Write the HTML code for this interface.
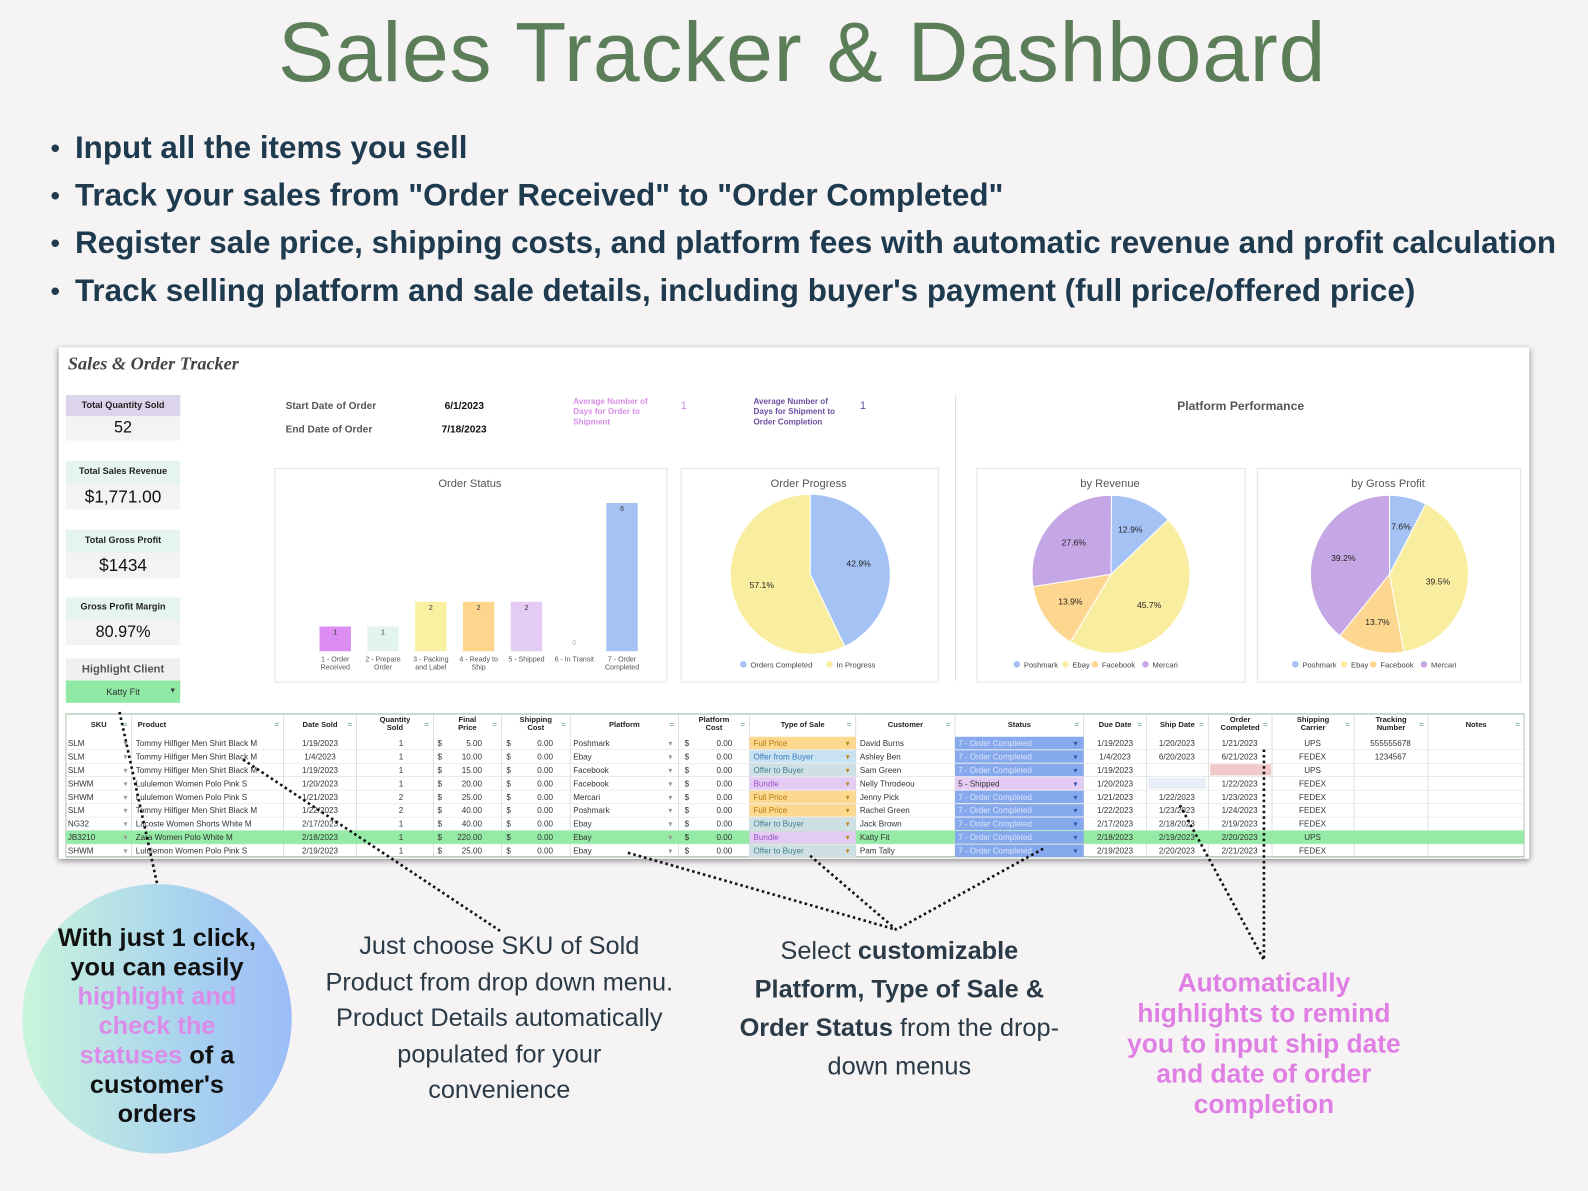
<!DOCTYPE html>
<html><head><meta charset="utf-8">
<style>
html,body{margin:0;padding:0;background:#f5f3f4;overflow:hidden}
#w{position:absolute;left:0;top:0;width:1568px;height:1176px;transform:scale(1.01276);transform-origin:0 0;font-family:"Liberation Sans",Arial,sans-serif;background:#f5f3f4}
.a{position:absolute}
.title{left:0;width:1584px;top:4px;text-align:center;font-size:83px;color:#5b7d58;letter-spacing:0.8px}
.bul{left:50px;font-size:31px;font-weight:bold;color:#1e3a4e;white-space:nowrap}
.bul:before{content:"•";position:absolute;left:0;font-size:26px;top:3px}
.bul span{margin-left:24px}
#panel{left:58px;top:343px;width:1452px;height:505px;background:#fff;box-shadow:0 2px 6px rgba(0,0,0,.45)}
.hdr{font-size:9px;font-weight:bold;text-align:center;color:#222}
.val{text-align:center;color:#111;background:#f3f3f3}
.box{border:1px solid #e4e4e4;background:#fff}
.ct{font-size:11px;color:#555;text-align:center}
.tx{font-size:25px;color:#2b3a47;text-align:center;line-height:35.5px}
</style></head><body><div id="w">
<div class="a title">Sales Tracker &amp; Dashboard</div>
<div class="a bul" style="top:128px"><span>Input all the items you sell</span></div>
<div class="a bul" style="top:175px"><span>Track your sales from "Order Received" to "Order Completed"</span></div>
<div class="a bul" style="top:222px"><span>Register sale price, shipping costs, and platform fees with automatic revenue and profit calculation</span></div>
<div class="a bul" style="top:269px"><span>Track selling platform and sale details, including buyer's payment (full price/offered price)</span></div>

<div class="a" id="panel"></div>
<div class="a" style="left:67px;top:349px;font-family:'Liberation Serif',serif;font-style:italic;font-weight:bold;font-size:18px;color:#444">Sales &amp; Order Tracker</div>

<div class="a hdr" style="left:65px;top:390px;width:113px;height:21px;line-height:21px;background:#dcd4ea">Total Quantity Sold</div>
<div class="a val" style="left:65px;top:411px;width:113px;height:24px;line-height:24px;font-size:16px">52</div>
<div class="a hdr" style="left:65px;top:455px;width:113px;height:23px;line-height:20px;background:#e5f4ef">Total Sales Revenue</div>
<div class="a val" style="left:65px;top:478px;width:113px;height:25px;line-height:25px;font-size:17px">$1,771.00</div>
<div class="a hdr" style="left:65px;top:523px;width:113px;height:23px;line-height:20px;background:#e5f4ef">Total Gross Profit</div>
<div class="a val" style="left:65px;top:546px;width:113px;height:25px;line-height:25px;font-size:17px">$1434</div>
<div class="a hdr" style="left:65px;top:590px;width:113px;height:22px;line-height:18px;background:#e5f4ef">Gross Profit Margin</div>
<div class="a val" style="left:65px;top:612px;width:113px;height:25px;line-height:25px;font-size:16px">80.97%</div>
<div class="a" style="left:65px;top:650px;width:113px;height:22px;line-height:22px;background:#f0f0f0;font-size:11px;font-weight:bold;color:#555;text-align:center">Highlight Client</div>
<div class="a" style="left:65px;top:672px;width:113px;height:22px;line-height:22px;background:#8fe8a4;font-size:9px;color:#333;text-align:center">Katty Fit <span style="position:absolute;right:4px;font-size:7px">▼</span></div>

<div class="a" style="left:282px;top:396px;font-size:10px;font-weight:bold;color:#555">Start Date of Order</div>
<div class="a" style="left:282px;top:419px;font-size:10px;font-weight:bold;color:#555">End Date of Order</div>
<div class="a" style="left:439px;top:396px;font-size:10px;font-weight:bold;color:#111">6/1/2023</div>
<div class="a" style="left:436px;top:419px;font-size:10px;font-weight:bold;color:#111">7/18/2023</div>
<div class="a" style="left:566px;top:392px;font-size:8px;font-weight:bold;color:#d88de6;line-height:10px">Average Number of<br>Days for Order to<br>Shipment</div>
<div class="a" style="left:672px;top:395px;font-size:11px;color:#c58ee6">1</div>
<div class="a" style="left:744px;top:392px;font-size:8px;font-weight:bold;color:#6a4ea0;line-height:10px">Average Number of<br>Days for Shipment to<br>Order Completion</div>
<div class="a" style="left:849px;top:395px;font-size:11px;color:#6a4ea0">1</div>
<div class="a" style="left:943px;top:390px;width:1px;height:282px;background:#ddd"></div>
<div class="a" style="left:1100px;top:394px;width:250px;text-align:center;font-size:12px;font-weight:bold;color:#555">Platform Performance</div>

<div class="a box" style="left:271px;top:462px;width:386px;height:210px"></div>
<div class="a ct" style="left:271px;top:472px;width:386px">Order Status</div>
<div class="a box" style="left:672px;top:462px;width:253px;height:210px"></div>
<div class="a ct" style="left:672px;top:472px;width:253px">Order Progress</div>
<div class="a box" style="left:964px;top:462px;width:264px;height:210px"></div>
<div class="a ct" style="left:964px;top:472px;width:264px">by Revenue</div>
<div class="a box" style="left:1241px;top:462px;width:259px;height:210px"></div>
<div class="a ct" style="left:1241px;top:472px;width:259px">by Gross Profit</div>

<svg class="a" id="svg" style="left:0;top:0" width="1568" height="1176" viewBox="0 0 1568 1176"></svg>

<div class="a" style="left:22px;top:873px;width:266px;height:266px;border-radius:50%;background:linear-gradient(90deg,#c9f5dc,#a9d3ee 60%,#9cbdf8)"></div>
<div class="a" style="left:22px;top:912px;width:266px;text-align:center;font-size:25px;font-weight:bold;line-height:29px;color:#111">With just 1 click,<br>you can easily<br><span style="color:#dc8be8">highlight and<br>check the<br>statuses</span> of a<br>customer's<br>orders</div>
<div class="a tx" style="left:293px;top:917px;width:400px">Just choose SKU of Sold<br>Product from drop down menu.<br>Product Details automatically<br>populated for your<br>convenience</div>
<div class="a tx" style="left:690px;top:920px;width:396px;line-height:38px">Select <b>customizable<br>Platform, Type of Sale &amp;<br>Order Status</b> from the drop-<br>down menus</div>
<div class="a" style="left:1080px;top:955px;width:336px;text-align:center;font-size:26px;font-weight:bold;color:#e07fe3;line-height:30px">Automatically<br>highlights to remind<br>you to input ship date<br>and date of order<br>completion</div>
</div>
<script>
var S=document.getElementById('svg'),h='';
function pie(cx,cy,r,vals,cols){var a=-Math.PI/2;vals.forEach(function(v,i){var b=a+v/100*2*Math.PI;var x1=cx+r*Math.cos(a),y1=cy+r*Math.sin(a),x2=cx+r*Math.cos(b),y2=cy+r*Math.sin(b);
h+='<path d="M'+cx+' '+cy+'L'+x1.toFixed(1)+' '+y1.toFixed(1)+'A'+r+' '+r+' 0 '+(v>50?1:0)+' 1 '+x2.toFixed(1)+' '+y2.toFixed(1)+'Z" fill="'+cols[i]+'" stroke="#fff" stroke-width="1"/>';
var m=(a+b)/2;h+='<text x="'+(cx+r*0.62*Math.cos(m)).toFixed(1)+'" y="'+(cy+r*0.62*Math.sin(m)+3).toFixed(1)+'" font-size="8.5" text-anchor="middle" fill="#222">'+v+'%</text>';a=b;});}
var B='#a4c2f4',Y='#f9ee9f',O='#fdd68f',P='#c4a7e4';
pie(800,567,79,[42.9,57.1],[B,Y]);
pie(1097,567,78,[12.9,45.7,13.9,27.6],[B,Y,O,P]);
pie(1372,567,78,[7.6,39.5,13.7,39.2],[B,Y,O,P]);
function leg(x,y,items){items.forEach(function(it){h+='<circle cx="'+x+'" cy="'+y+'" r="3.2" fill="'+it[1]+'"/><text x="'+(x+7)+'" y="'+(y+3)+'" font-size="7.5" fill="#444">'+it[0]+'</text>';x+=it[2];});}
leg(734,656,[['Orders Completed',B,85],['In Progress',Y,50]]);
leg(1004,656,[['Poshmark',B,48],['Ebay',Y,29],['Facebook',O,50],['Mercari',P,40]]);
leg(1279,656,[['Poshmark',B,48],['Ebay',Y,29],['Facebook',O,50],['Mercari',P,40]]);
var bars=[[1,'#dc8df1','1 - Order|Received'],[1,'#e3f3ef','2 - Prepare|Order'],[2,'#faf0a1','3 - Packing|and Label'],[2,'#fdd58d','4 - Ready to|Ship'],[2,'#e4cbf4','5 - Shipped'],[0,'#fff','6 - In Transit'],[6,'#a4c2f4','7 - Order|Completed']];
bars.forEach(function(b,i){var cx=331+i*47.2,ht=b[0]*24.4;if(b[0])h+='<rect x="'+(cx-15.5)+'" y="'+(643-ht)+'" width="31" height="'+ht+'" fill="'+b[1]+'"/>';
h+='<text x="'+cx+'" y="'+(643-ht+(b[0]?8:-6))+'" font-size="7" text-anchor="middle" fill="'+(b[0]?'#333':'#bbb')+'">'+b[0]+'</text>';
b[2].split('|').forEach(function(l,j){h+='<text x="'+cx+'" y="'+(653+j*8)+'" font-size="7" text-anchor="middle" fill="#555">'+l+'</text>';});});
var cols=[65,130,280,352,428,495,563,670,740,845,943,1070,1132,1193,1256,1337,1410,1505];
var heads=['SKU','Product','Date Sold','Quantity|Sold','Final|Price','Shipping|Cost','Platform','Platform|Cost','Type of Sale','Customer','Status','Due Date','Ship Date','Order|Completed','Shipping|Carrier','Tracking|Number','Notes'];
h+='<rect x="65" y="705" width="1440" height="141" fill="#fff" stroke="#9bb79a"/>';
cols.forEach(function(x){h+='<line x1="'+x+'" y1="705" x2="'+x+'" y2="846" stroke="#ccc" stroke-width="0.6"/>';});
heads.forEach(function(t,i){var c=(cols[i]+cols[i+1])/2,ls=t.split('|');ls.forEach(function(l,j){h+='<text x="'+(i==1?150:c)+'" y="'+(ls.length>1?713+j*8:718)+'" font-size="7.5" font-weight="bold" text-anchor="middle" fill="#222">'+l+'</text>';});
h+='<text x="'+(cols[i+1]-9)+'" y="718" font-size="8" fill="#5a9a6a">=</text>';});
var rows=[
['SLM','Tommy Hilfiger Men Shirt Black M','1/19/2023','1','5.00','Poshmark','Full Price','David Burns',7,'1/19/2023','1/20/2023','1/21/2023','UPS','555555678'],
['SLM','Tommy Hilfiger Men Shirt Black M','1/4/2023','1','10.00','Ebay','Offer from Buyer','Ashley Ben',7,'1/4/2023','6/20/2023','6/21/2023','FEDEX','1234567'],
['SLM','Tommy Hilfiger Men Shirt Black M','1/19/2023','1','15.00','Facebook','Offer to Buyer','Sam Green',7,'1/19/2023','','','UPS',''],
['SHWM','Lululemon Women Polo Pink S','1/20/2023','1','20.00','Facebook','Bundle','Nelly Throdeou',5,'1/20/2023','','1/22/2023','FEDEX',''],
['SHWM','Lululemon Women Polo Pink S','1/21/2023','2','25.00','Mercari','Full Price','Jenny Pick',7,'1/21/2023','1/22/2023','1/23/2023','FEDEX',''],
['SLM','Tommy Hilfiger Men Shirt Black M','1/22/2023','2','40.00','Poshmark','Full Price','Rachel Green',7,'1/22/2023','1/23/2023','1/24/2023','FEDEX',''],
['NG32','Lacoste Women Shorts White M','2/17/2023','1','40.00','Ebay','Offer to Buyer','Jack Brown',7,'2/17/2023','2/18/2023','2/19/2023','FEDEX',''],
['JB3210','Zara Women Polo White M','2/18/2023','1','220.00','Ebay','Bundle','Katty Fit',7,'2/18/2023','2/19/2023','2/20/2023','UPS',''],
['SHWM','Lululemon Women Polo Pink S','2/19/2023','1','25.00','Ebay','Offer to Buyer','Pam Tally',7,'2/19/2023','2/20/2023','2/21/2023','FEDEX','']];
var tc={'Full Price':['#fdd88f','#b77a10'],'Offer from Buyer':['#c8e2f2','#3a7bbf'],'Offer to Buyer':['#cfe0e4','#3f7f90'],'Bundle':['#e4cbf4','#9a55c6']};
rows.forEach(function(r,k){var y=727+k*13.3;
if(k==7)h+='<rect x="65" y="'+y+'" width="1440" height="13.3" fill="#95eaa6"/>';
h+='<line x1="65" y1="'+(y+13.3)+'" x2="1505" y2="'+(y+13.3)+'" stroke="#ddd" stroke-width="0.5"/>';
var t=tc[r[6]];h+='<rect x="740" y="'+(y+0.5)+'" width="105" height="12.3" fill="'+t[0]+'"/>';
h+='<rect x="943" y="'+(y+0.5)+'" width="127" height="12.3" fill="'+(r[8]==7?'#86a8ec':'#e4cbf4')+'"/>';
if(k==2)h+='<rect x="1195" y="'+(y+1)+'" width="60" height="11" fill="#f2c9c9"/>';
if(k==3)h+='<rect x="1134" y="'+(y+1)+'" width="57" height="11" fill="#e8eef8"/>';
var yy=y+9.5;function tx(x,s,a,c){h+='<text x="'+x+'" y="'+yy+'" font-size="8" text-anchor="'+(a||'start')+'" fill="'+(c||'#333')+'">'+s+'</text>';}
tx(67,r[0]);tx(122,'▾','start','#999');tx(134,r[1]);tx(316,r[2],'middle');tx(396,r[3],'middle');tx(432,'$');tx(476,r[4],'end');tx(500,'$');tx(546,'0.00','end');
tx(566,r[5]);tx(660,'▾','start','#999');tx(676,'$');tx(723,'0.00','end');tx(744,r[6],'start',t[1]);tx(835,'▾','start','#b88a20');tx(849,r[7]);
tx(946,r[8]==7?'7 - Order Completed':'5 - Shipped','start',r[8]==7?'#dbe6fb':'#333');tx(1060,'▾','start','#2b55b0');
tx(1101,r[9],'middle');tx(1162,r[10],'middle');tx(1224,r[11],'middle');tx(1296,r[12],'middle');tx(1373,r[13],'middle');});
[[118,703,155,872],[240,750,495,920],[620,842,885,918],[800,845,885,918],[1030,838,885,918],[1165,795,1248,948],[1248,740,1248,948]].forEach(function(l){
h+='<line x1="'+l[0]+'" y1="'+l[1]+'" x2="'+l[2]+'" y2="'+l[3]+'" stroke="#111" stroke-width="2.6" stroke-dasharray="2.5 3"/>';});
S.innerHTML=h;
</script>
</body></html>
